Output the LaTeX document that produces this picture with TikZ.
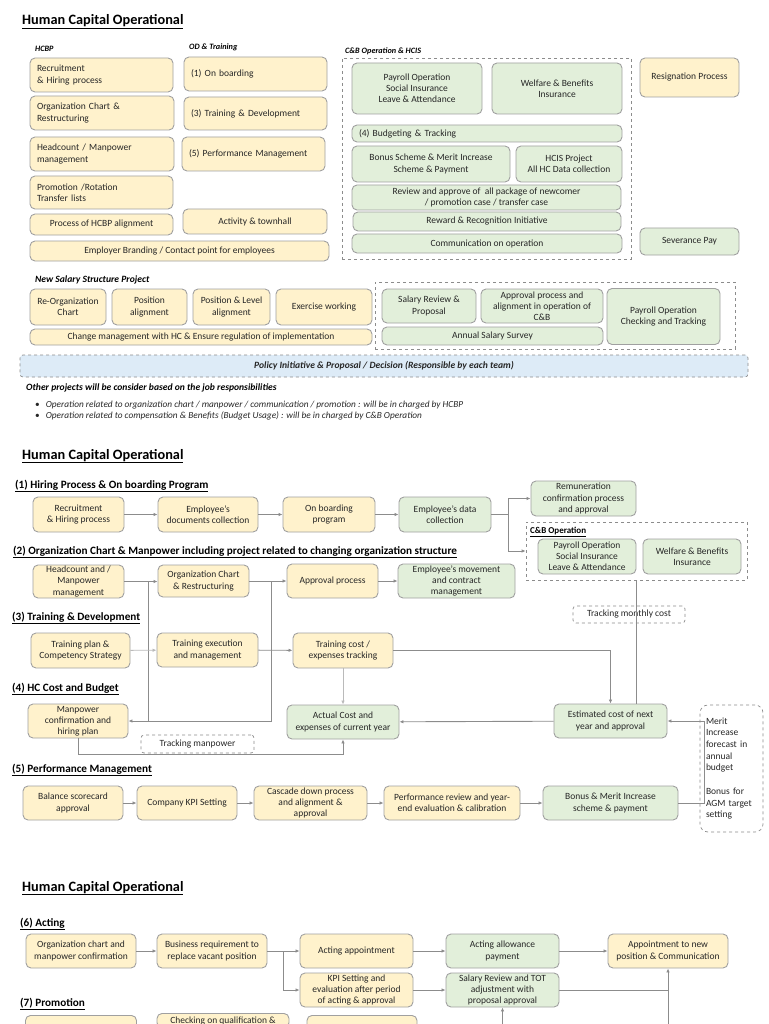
\documentclass[tikz,border=0pt]{standalone}
\usepackage{fontspec}
\setmainfont{Carlito}
\usetikzlibrary{arrows.meta}

\definecolor{yelfill}{HTML}{FFF2CC}
\definecolor{grnfill}{HTML}{E2EFDA}
\definecolor{bluefill}{HTML}{DDEBF7}
\definecolor{boxline}{HTML}{A0A0A0}
\definecolor{conline}{HTML}{8C8C8C}
\definecolor{txt}{HTML}{262626}

\tikzset{
  box/.style={draw=boxline, line width=0.9pt, rounded corners=5pt, text=txt, align=center,
    inner xsep=2pt, inner ysep=1pt, font=\fontsize{9.5}{11.2}\selectfont},
  yel/.style={box, fill=yelfill},
  grn/.style={box, fill=grnfill},
  lft/.style={align=left, inner xsep=7pt},
  tag/.style={draw=conline, dashed, line width=0.7pt, rounded corners=3pt, text=txt,
    font=\fontsize{9.5}{11.2}\selectfont, inner sep=0pt},
  grp/.style={draw=conline, dashed, line width=0.7pt, inner sep=0pt},
  conn/.style={draw=conline, line width=0.9pt, -{Latex[length=4pt,width=3.5pt]}},
  line/.style={draw=conline, line width=0.9pt},
  title/.style={anchor=base west, inner sep=0pt, text=black, font=\fontsize{14.3}{16}\selectfont\bfseries},
  head/.style={anchor=base west, inner sep=0pt, text=black, font=\fontsize{11.2}{13}\selectfont\bfseries},
  sub/.style={anchor=base west, inner sep=0pt, text=black, font=\fontsize{8.2}{9}\selectfont\bfseries\itshape},
  note/.style={anchor=base west, inner sep=0pt, text=black, font=\fontsize{9.6}{11}\selectfont\bfseries\itshape},
}

\begin{document}
\begin{tikzpicture}[x=1pt,y=-1pt]
\useasboundingbox (0,0) rectangle (768,1024);
\clip (0,0) rectangle (768,1024);

% ---------- page 1 : overview
\node[title] (t1) at (22,25) {\underline{Human Capital Operational}};
\node[sub] (lhcbp) at (35,52) {HCBP};
\node[sub] (lod) at (189,50) {OD \& Training};
\node[sub] (lcb) at (345,54) {C\&B Operation \& HCIS};

\node[yel,lft,minimum height=34,text width=129] (recr) at (101.5,75) {Recruitment\\\& Hiring process};
\node[yel,lft,minimum height=34,text width=129] (onbd) at (255.5,74) {(1) On boarding};
\node[yel,lft,minimum height=34,text width=130] (orgc) at (102,113) {Organization Chart \&\\Restructuring};
\node[yel,lft,minimum height=33,text width=129] (trdv) at (255.5,113.5) {(3) Training \& Development};
\node[yel,lft,minimum height=34,text width=130] (hdct) at (102,154) {Headcount / Manpower\\management};
\node[yel,lft,minimum height=34,text width=129] (perf) at (253.5,154) {(5) Performance Management};
\node[yel,lft,minimum height=33,text width=129] (prom) at (101.5,192.5) {Promotion /Rotation\\Transfer lists};
\node[yel,minimum width=143,minimum height=21] (hcbp) at (101.5,224.5) {Process of HCBP alignment};
\node[yel,minimum width=144,minimum height=25] (actv) at (255,221.5) {Activity \& townhall};
\node[yel,minimum width=299,minimum height=20] (brand) at (179.5,251) {Employer Branding / Contact point for employees};

\node[grp,minimum width=289,minimum height=201] (cbhcis) at (486.5,158.5) {};
\node[grn,minimum width=130,minimum height=51] (pay1) at (417,88.5) {Payroll Operation\\Social Insurance\\Leave \& Attendance};
\node[grn,minimum width=130,minimum height=51] (welf1) at (557,88.5) {Welfare \& Benefits\\Insurance};
\node[grn,lft,minimum height=17,text width=256] (budg) at (487,133.5) {(4) Budgeting \& Tracking};
\node[grn,minimum width=158,minimum height=36] (bonus1) at (431,164) {Bonus Scheme \& Merit Increase\\Scheme \& Payment};
\node[grn,minimum width=106,minimum height=36] (hcis) at (569,164) {HCIS Project\\All HC Data collection};
\node[grn,minimum width=269,minimum height=25] (revw) at (486.5,197.5) {Review and approve of\ \ all package of newcomer\\/ promotion case / transfer case};
\node[grn,minimum width=268,minimum height=19] (rewd) at (487,221.5) {Reward \& Recognition Initiative};
\node[grn,minimum width=270,minimum height=19] (comm) at (487,243.5) {Communication on operation};
\node[yel,minimum width=99,minimum height=39] (resign) at (689.5,77.5) {Resignation Process};
\node[grn,minimum width=99,minimum height=27] (sever) at (689.5,241.5) {Severance Pay};

\node[note] (lnss) at (35,282) {New Salary Structure Project};
\node[yel,minimum width=76,minimum height=36] (reorg) at (68,307) {Re-Organization\\Chart};
\node[yel,minimum width=75,minimum height=36] (posal) at (149.5,307) {Position\\alignment};
\node[yel,minimum width=77,minimum height=36] (poslv) at (231.5,307) {Position \& Level\\alignment};
\node[yel,minimum width=96,minimum height=36] (exer) at (324,307) {Exercise working};
\node[yel,minimum width=342,minimum height=16] (chng) at (201,337) {Change management with HC \& Ensure regulation of implementation};

\node[grp,minimum width=360,minimum height=67] (salgrp) at (555,315.5) {};
\node[grn,minimum width=94,minimum height=34] (salrv) at (429,306) {Salary Review \&\\Proposal};
\node[grn,minimum width=122,minimum height=34] (apprv) at (542,306) {Approval process and\\alignment in operation of\\C\&B};
\node[grn,minimum width=113,minimum height=56] (payck) at (663.5,316.5) {Payroll Operation\\Checking and Tracking};
\node[grn,minimum width=221,minimum height=18] (survey) at (492.5,336) {Annual Salary Survey};

\node[draw=conline,dashed,line width=0.7pt,fill=bluefill,rounded corners=3pt,minimum width=728,minimum height=22,
  text=txt,font=\fontsize{9.6}{11}\selectfont\bfseries\itshape] (policy) at (384,366) {Policy Initiative \& Proposal / Decision (Responsible by each team)};
\node[note] (other) at (26,390) {Other projects will be consider based on the job responsibilities};
\node[anchor=base west,inner sep=0pt,text=txt,font=\fontsize{9.3}{11}\selectfont] (bul1) at (35,407)
  {\textbullet\hspace{6pt}\textit{Operation related to organization chart / manpower / communication / promotion : will be in charged by HCBP}};
\node[anchor=base west,inner sep=0pt,text=txt,font=\fontsize{9.3}{11}\selectfont] (bul2) at (35,418)
  {\textbullet\hspace{6pt}\textit{Operation related to compensation \& Benefits (Budget Usage) : will be in charged by C\&B Operation}};

% ---------- page 2 : processes
\node[title] (t2) at (22,459) {\underline{Human Capital Operational}};

\node[head] (h1) at (15,488) {\underline{(1) Hiring Process \& On boarding Program}};
\node[yel,minimum width=91,minimum height=35] (srecr) at (78.5,514.5) {Recruitment\\\& Hiring process};
\node[yel,minimum width=100,minimum height=35] (sdocs) at (208,514.5) {Employee’s\\documents collection};
\node[yel,minimum width=92,minimum height=35] (sonb) at (329,514.5) {On boarding\\program};
\node[grn,minimum width=92,minimum height=35] (sdata) at (445,514.5) {Employee’s data\\collection};
\node[grn,minimum width=105,minimum height=35] (sremu) at (583.5,498.5) {Remuneration\\confirmation process\\and approval};
\node[grp,minimum width=221,minimum height=58] (cbgrp) at (636.5,551) {};
\node[anchor=base west,inner sep=0pt,text=black,font=\fontsize{9}{10}\selectfont\bfseries] (lcbop) at (530,533) {\underline{C\&B Operation}};
\node[grn,minimum width=98,minimum height=35] (spay) at (587,556.5) {Payroll Operation\\Social Insurance\\Leave \& Attendance};
\node[grn,minimum width=98,minimum height=35] (swelf) at (692,556.5) {Welfare \& Benefits\\Insurance};

\node[head] (h2) at (13,554) {\underline{(2) Organization Chart \& Manpower including project related to changing organization structure}};
\node[yel,minimum width=91,minimum height=33] (shc) at (78.5,581.5) {Headcount and /\\Manpower\\management};
\node[yel,minimum width=91,minimum height=32] (sorg) at (203.5,581) {Organization Chart\\\& Restructuring};
\node[yel,minimum width=91,minimum height=34] (sappr) at (332.5,581) {Approval process};
\node[grn,minimum width=117,minimum height=34] (smove) at (456.5,581) {Employee’s movement\\and contract\\management};

\node[head] (h3) at (12,620) {\underline{(3) Training \& Development}};
\node[yel,minimum width=99,minimum height=35] (splan) at (80.5,650.5) {Training plan \&\\Competency Strategy};
\node[yel,minimum width=101,minimum height=34] (sexec) at (207.5,650) {Training execution\\and management};
\node[yel,minimum width=100,minimum height=35] (scost) at (343,650.5) {Training cost /\\expenses tracking};

\node[head] (h4) at (12,691) {\underline{(4) HC Cost and Budget}};
\node[yel,minimum width=100,minimum height=34] (sman) at (78,721) {Manpower\\confirmation and\\hiring plan};
\node[grn,minimum width=112,minimum height=34] (sact) at (343,722) {Actual Cost and\\expenses of current year};
\node[grn,minimum width=113,minimum height=34] (sest) at (610.5,721) {Estimated cost of next\\year and approval};
\node[tag,minimum width=112,minimum height=17] (tmon) at (629,614.5) {Tracking monthly cost};
\node[tag,minimum width=113,minimum height=18] (tman) at (197.5,744) {Tracking manpower};
\node[tag,rounded corners=8pt,align=left,text width=51,inner xsep=6pt,minimum height=127,
  font=\fontsize{9.5}{11.7}\selectfont] (merit) at (731.5,768.5)
  {Merit\\Increase\\forecast in\\annual\\budget\\[11.7pt]Bonus for\\AGM target\\setting};

\node[head] (h5) at (12,772) {\underline{(5) Performance Management}};
\node[yel,minimum width=100,minimum height=34] (sbsc) at (73,803) {Balance scorecard\\approval};
\node[yel,minimum width=100,minimum height=34] (skpi) at (187,803) {Company KPI Setting};
\node[yel,minimum width=113,minimum height=34] (scasc) at (310.5,803) {Cascade down process\\and alignment \&\\approval};
\node[yel,minimum width=136,minimum height=34] (srev) at (452,803) {Performance review and year-\\end evaluation \& calibration};
\node[grn,minimum width=135,minimum height=34] (sbon) at (610.5,803) {Bonus \& Merit Increase\\scheme \& payment};

% connectors (1)
\draw[conn] (srecr) -- (sdocs);
\draw[conn] (sdocs) -- (sonb);
\draw[conn] (sonb) -- (sdata);
\draw[conn] (sdata.east) -- ++(17,0) |- (sremu.west);
\draw[conn] (sdata.east) -- ++(17,0) |- (cbgrp.west);
% connectors (2)
\draw[conn] (shc.east) -- (sorg.west |- shc.east);
\draw[conn] (shc.east) -- ++(24,0) |- (sman.east);
\draw[conn] (sorg) -- (sappr);
\draw[line] (sorg.east) -- ++(22,0) |- ([xshift=20pt]sman.east);
\draw[conn] (sappr) -- (smove);
% connectors (3) and (4)
\draw[conn,draw=conline!60] (splan) -- (sexec);
\draw[conn] (sexec) -- (scost);
\draw[conn] (scost.east) -| (sest.north);
\draw[conn,draw=conline!60] (scost) -- (sact);
\draw[conn] (sest) -- (sact);
\draw[line] (cbgrp.south -| spay.east) -- (sest.north -| spay.east);
\draw[conn] (sman.south) -- ++(0,16) -| (sact.south);
% connectors (5)
\draw[conn] (sbsc) -- (skpi);
\draw[conn] (skpi) -- (scasc);
\draw[conn] (scasc) -- (srev);
\draw[conn] (srev) -- (sbon);
\draw[conn] (sbon.east) -- ++(26,0) |- (sest.east);

% ---------- page 3
\node[title] (t3) at (22,891) {\underline{Human Capital Operational}};

\node[head] (h6) at (20,926) {\underline{(6) Acting}};
\node[yel,minimum width=110,minimum height=34] (aorg) at (81,951) {Organization chart and\\manpower confirmation};
\node[yel,minimum width=110,minimum height=34] (abus) at (212,951) {Business requirement to\\replace vacant position};
\node[yel,minimum width=113,minimum height=34] (aact) at (356.5,951) {Acting appointment};
\node[yel,minimum width=113,minimum height=34] (akpi) at (356.5,990) {KPI Setting and\\evaluation after period\\of acting \& approval};
\node[grn,minimum width=113,minimum height=34] (aallw) at (502.5,951) {Acting allowance\\payment};
\node[grn,minimum width=113,minimum height=34] (asal) at (502.5,990) {Salary Review and TOT\\adjustment with\\proposal approval};
\node[yel,minimum width=120,minimum height=34] (anew) at (668,951) {Appointment to new\\position \& Communication};

\node[head] (h7) at (20,1006) {\underline{(7) Promotion}};
\node[yel,anchor=north,minimum width=111,minimum height=30] (pone) at (81,1015) {};
\node[yel,anchor=north,minimum width=132,inner ysep=3pt] (ptwo) at (223,1013) {Checking on qualification \&};
\node[yel,anchor=north,minimum width=110,minimum height=30] (pthree) at (362,1015) {};

\coordinate (downR) at (668,1030);
\coordinate (downM) at (502.5,1030);

\draw[conn] (aorg) -- (abus);
\draw[conn] (abus.east) -- ++(16,0) |- (aact.west);
\draw[conn] (abus.east) -- ++(16,0) |- (akpi.west);
\draw[conn] (aact) -- (aallw);
\draw[conn] (aallw) -- (anew);
\draw[conn] (akpi) -- (asal);
\draw[conn] (asal.east) -| (anew.south);
\draw[line] (downR) -- (asal.east -| anew.south);
\draw[conn] (downM) -- (asal.south);

\end{tikzpicture}
\end{document}
